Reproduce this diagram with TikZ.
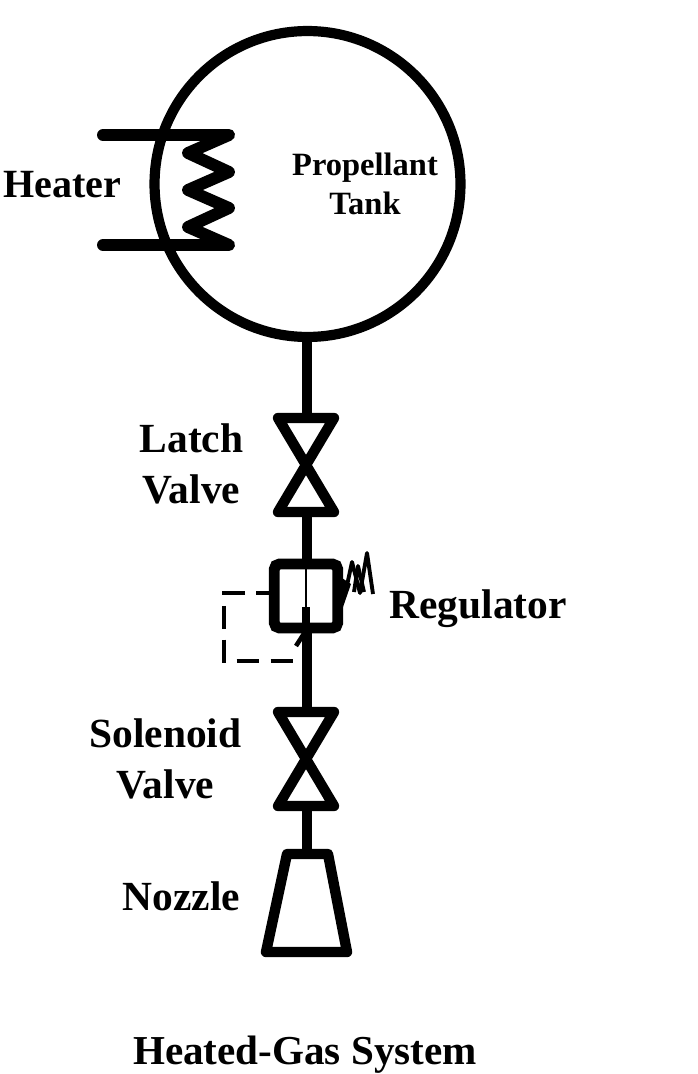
\documentclass[tikz,border=0pt]{standalone}
\usepackage{fontspec}
\setmainfont{Liberation Serif}
\usetikzlibrary{positioning}
\tikzset{
	pipe/.style={line width=5.8pt},
	outline/.style={line width=5.9pt, line join=round},
	coil/.style={line width=6.8pt, line cap=round, line join=round},
	thinline/.style={line width=1.7pt},
	dashline/.style={line width=2pt, dash pattern=on 13pt off 6.3pt, dash phase=5.7pt},
	label/.style={font=\bfseries\fontsize{23.6}{29}\selectfont, align=center, inner sep=0pt},
}
\begin{document}
\begin{tikzpicture}[x=0.02cm, y=-0.02cm]
			\useasboundingbox (0,0) rectangle (697,1074);
			\node[circle, draw, pipe, minimum size=6.12cm, inner sep=0pt] (tank) at (307.5,184) {};
			\node[font=\bfseries\fontsize{18.5}{22}\selectfont, align=center, inner sep=0pt] (tanklabel) at (365,184) {Propellant\\Tank};
			\node[label, font=\bfseries\fontsize{22.8}{29}\selectfont, anchor=west] (heater) at (3,185) {Heater};
			% heater coil
			\coordinate (h0) at (103,135);
			\coordinate (h1) at (229,135);
			\coordinate (h2) at (188,153);
			\coordinate (h3) at (229,172);
			\coordinate (h4) at (188,190);
			\coordinate (h5) at (229,208);
			\coordinate (h6) at (188,227);
			\coordinate (h7) at (229,245);
			\coordinate (h8) at (103,245);
			\draw[coil] (h0) -- (h1) -- (h2) -- (h3) -- (h4) -- (h5) -- (h6) -- (h7) -- (h8);
			% latch valve
			\coordinate (la) at (278,418);
			\coordinate (lb) at (334,418);
			\coordinate (lc) at (278,512);
			\coordinate (ld) at (334,512);
			\coordinate (ltop) at (307,418);
			\coordinate (lbot) at (307,512);
			\draw[outline] (la) -- (lb) -- (lc) -- (ld) -- cycle;
			\node[label] (latch) at (191.5,464) {Latch\\Valve};
			% regulator
			\node[rectangle, draw, line width=6.2pt, rounded corners=3pt, minimum width=1.27cm, minimum height=1.28cm, inner sep=0pt] (reg) at (306,596) {};
			\node[label, anchor=west] (reglabel) at (389,609) {Regulator};
			\coordinate (regstem) at (306,607);
			\coordinate (regseat) at (306,625);
			\draw[thinline] (reg.north) -- (regstem);
			\draw[line width=4.5pt] (regstem) -- (regseat);
			% spring on regulator
			\coordinate (s0) at (346,590);
			\coordinate (s1) at (352,562);
			\coordinate (s2) at (360,593);
			\coordinate (s3) at (367,553);
			\coordinate (s4) at (373,594);
			\coordinate (s5) at (354,592);
			\coordinate (s6) at (358,566);
			\coordinate (s7) at (364,592);
			\draw[line width=2.2pt, line join=round] (s0) -- (s1) -- (s2) -- (s3) -- (s4);
			\draw[line width=2.2pt, line join=round] (s5) -- (s6) -- (s7);
			\fill (342,578) -- (351,584) -- (342,610) -- cycle;
			% sense line
			\coordinate (d0) at (269,593);
			\coordinate (d1) at (224,593);
			\coordinate (d2) at (224,661);
			\coordinate (d3) at (291,661);
			\coordinate (d4) at (291,655);
			\coordinate (d5) at (296,646);
			\coordinate (d6) at (305,632);
			\draw[dashline] (d0) -- (d1) -- (d2) -- (d3) -- (d4);
			\draw[line width=2.6pt] (d5) -- (d6);
			% solenoid valve
			\coordinate (va) at (278,712);
			\coordinate (vb) at (334,712);
			\coordinate (vc) at (278,806);
			\coordinate (vd) at (334,806);
			\coordinate (vtop) at (307,712);
			\coordinate (vbot) at (307,806);
			\draw[outline] (va) -- (vb) -- (vc) -- (vd) -- cycle;
			\node[label] (solenoid) at (165.5,759) {Solenoid\\Valve};
			% nozzle
			\coordinate (na) at (287,854);
			\coordinate (nb) at (328,854);
			\coordinate (nc) at (347,952);
			\coordinate (nd) at (266,952);
			\coordinate (ntop) at (307,854);
			\draw[outline] (na) -- (nb) -- (nc) -- (nd) -- cycle;
			\node[label] (nozzle) at (181.5,896) {Nozzle};
			% pipe
			\draw[pipe] (ltop |- tank.south) -- (ltop);
			\draw[pipe] (lbot) -- (lbot |- reg.north);
			\draw[pipe] (vtop |- reg.south) -- (vtop);
			\draw[pipe] (vbot) -- (ntop);
			\node[font=\bfseries\fontsize{23.4}{28}\selectfont, inner sep=0pt, anchor=base] (title) at (305,1064) {Heated-Gas System};
		\end{tikzpicture}
\end{document}
